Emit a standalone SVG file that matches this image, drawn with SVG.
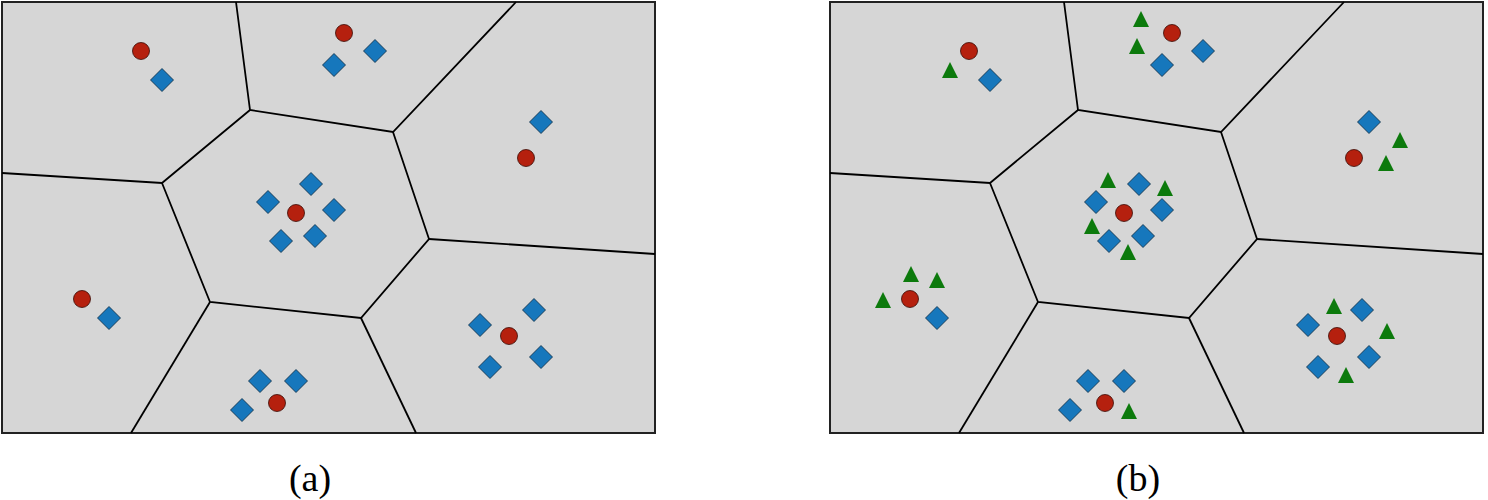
<svg xmlns="http://www.w3.org/2000/svg" xmlns:xlink="http://www.w3.org/1999/xlink" width="1488" height="500" viewBox="0 0 1488 500">
<style>
.frame{fill:#d6d6d6;stroke:#222;stroke-width:2}
.edge{stroke:#000;stroke-width:1.8;fill:none}
.cap{font-family:"Liberation Serif","DejaVu Serif",serif;font-size:38px;fill:#000;text-anchor:middle}
</style>
<defs>
<circle id="c" r="8.5" fill="#b5200e" stroke="#3a0a04" stroke-width="0.8"/>
<path id="d" d="M0,-11.5 L11.5,0 L0,11.5 L-11.5,0 Z" fill="#1677bc" stroke="#0b2a40" stroke-width="0.8"/>
<path id="t" d="M0,-8 L8,8 L-8,8 Z" fill="#0c7a0c"/>
<g id="voronoi">
<rect class="frame" x="2" y="2" width="653" height="431"/>
<g class="edges">
<path class="edge" d="M236,2 L250,110 L393,132 L516,2"/>
<path class="edge" d="M250,110 L162,183 L2,173"/>
<path class="edge" d="M162,183 L210,302 L361,318 L429,239 L393,132"/>
<path class="edge" d="M429,239 L655,254"/>
<path class="edge" d="M210,302 L131,433"/>
<path class="edge" d="M361,318 L416,433"/>
</g>
<g id="base-markers">
<use xlink:href="#c" x="141" y="51"/>
<use xlink:href="#d" x="162" y="80"/>
<use xlink:href="#c" x="344" y="33"/>
<use xlink:href="#d" x="375" y="51"/>
<use xlink:href="#d" x="334" y="65"/>
<use xlink:href="#d" x="541" y="122"/>
<use xlink:href="#c" x="526" y="158"/>
<use xlink:href="#d" x="311" y="184"/>
<use xlink:href="#d" x="268" y="202"/>
<use xlink:href="#c" x="296" y="213"/>
<use xlink:href="#d" x="334" y="210"/>
<use xlink:href="#d" x="315" y="236"/>
<use xlink:href="#d" x="281" y="241"/>
<use xlink:href="#c" x="82" y="299"/>
<use xlink:href="#d" x="109" y="318"/>
<use xlink:href="#d" x="260" y="381"/>
<use xlink:href="#d" x="296" y="381"/>
<use xlink:href="#c" x="277" y="403"/>
<use xlink:href="#d" x="242" y="410"/>
<use xlink:href="#d" x="480" y="325"/>
<use xlink:href="#d" x="534" y="310"/>
<use xlink:href="#c" x="509" y="336"/>
<use xlink:href="#d" x="541" y="357"/>
<use xlink:href="#d" x="490" y="367"/>
</g>
</g>
</defs>
<g id="panel-a">
<use xlink:href="#voronoi"/>
<text class="cap" x="310" y="491">(a)</text>
</g>
<g id="panel-b">
<use xlink:href="#voronoi" transform="translate(828,0)"/>
<g id="triangles">
<use xlink:href="#t" x="950" y="70"/>
<use xlink:href="#t" x="1141" y="19"/>
<use xlink:href="#t" x="1137" y="46"/>
<use xlink:href="#t" x="1400" y="140"/>
<use xlink:href="#t" x="1386" y="163"/>
<use xlink:href="#t" x="1108" y="180"/>
<use xlink:href="#t" x="1165" y="188"/>
<use xlink:href="#t" x="1092" y="226"/>
<use xlink:href="#t" x="1128" y="252"/>
<use xlink:href="#t" x="911" y="274"/>
<use xlink:href="#t" x="937" y="280"/>
<use xlink:href="#t" x="883" y="300"/>
<use xlink:href="#t" x="1129" y="411"/>
<use xlink:href="#t" x="1334" y="306"/>
<use xlink:href="#t" x="1387" y="331"/>
<use xlink:href="#t" x="1346" y="375"/>
</g>
<text class="cap" x="1138" y="491">(b)</text>
</g>
</svg>
